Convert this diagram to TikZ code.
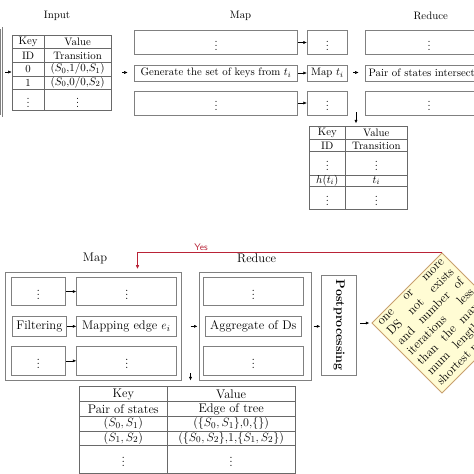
\documentclass[tikz,border=0pt]{standalone}
\usetikzlibrary{arrows.meta}
\definecolor{lg}{RGB}{128,128,128}
\definecolor{tg}{RGB}{105,105,105}
\definecolor{yesred}{RGB}{185,35,55}
\definecolor{dfill}{RGB}{255,252,212}
\definecolor{dedge}{RGB}{200,160,110}
\newcommand\mkbox[7]{\node[#1, inner sep=0pt, minimum width={(#5-#3)*1pt}, minimum height={(#6-#4)*1pt}] (#2) at ({(#3+#5)/2},{(#4+#6)/2}) {#7};}
\newcommand\spreadline[1]{\makebox[89pt]{#1}}
\begin{document}
\begin{tikzpicture}[x=1pt,y=-1pt,
  ibox/.style={draw=lg, line width=0.8pt},
  obox/.style={draw=lg, line width=0.55pt, double=white, double distance=1.6pt},
  obox2/.style={draw=lg, line width=1pt},
  cell/.style={draw=tg, line width=0.6pt},
  arr/.style={-{Latex[length=3.5pt,width=3pt]}, line width=0.5pt},
  lab/.style={inner sep=0pt}]
\useasboundingbox (0,0) rectangle (474,474);
\clip (0,0) rectangle (474,474);
\fill[white] (0,0) rectangle (474,474);

% ---------- top part ----------
\begin{scope}[font=\fontsize{10.8}{13}\selectfont]
\node[lab] (linput) at (57,16) {Input};
\node[lab] (lmap) at (240.5,16) {Map};
\node[lab] (lred) at (430.7,16) {Reduce};

\mkbox{obox}{prev}{-60}{28}{1.5}{116}{}

% input table
\mkbox{cell}{inK}{12}{35}{44.3}{48.7}{Key}
\mkbox{cell}{inV}{44.3}{35}{111}{48.7}{Value}
\mkbox{cell}{inI}{12}{48.7}{44.3}{62.3}{ID}
\mkbox{cell}{inT}{44.3}{48.7}{111}{62.3}{Transition}
\mkbox{cell}{inZa}{12}{62.3}{44.3}{76}{0}
\mkbox{cell}{inZb}{44.3}{62.3}{111}{76}{$(S_0{,}1/0{,}S_1)$}
\mkbox{cell}{inOa}{12}{76}{44.3}{89}{1}
\mkbox{cell}{inOb}{44.3}{76}{111}{89}{$(S_0{,}0/0{,}S_2)$}
\mkbox{cell}{inDa}{12}{89}{44.3}{110.5}{$\vdots$}
\mkbox{cell}{inDb}{44.3}{89}{111}{110.5}{$\vdots$}

\draw[arr, shorten <=3.5pt] (prev.east) -- (prev.east -| inK.west);

% map
\mkbox{obox}{map1}{130}{27}{351}{118}{}
\mkbox{ibox}{ma1}{134.3}{30.7}{297.7}{54.3}{$\vdots$}
\mkbox{ibox}{ma2}{134.3}{65}{297.7}{81}{Generate the set of keys from $t_i$}
\mkbox{ibox}{ma3}{134.3}{91}{297.7}{115}{$\vdots$}
\mkbox{ibox}{mb1}{307.3}{30.7}{347.3}{54.3}{$\vdots$}
\mkbox{ibox}{mb2}{307.3}{65}{347.3}{81}{Map $t_i$}
\mkbox{ibox}{mb3}{307.3}{91}{347.3}{115}{$\vdots$}
\draw[arr] (ma1.east) -- (mb1.west);
\draw[arr] (ma2.east) -- (mb2.west);
\draw[arr] (ma3.east) -- (mb3.west);

\draw[arr, shorten <=11pt, shorten >=2pt] (map1.west -| inV.east) -- (map1.west);

% reduce
\mkbox{obox}{red1}{361}{27}{497}{118}{}
\mkbox{ibox}{rb1}{365.7}{30.7}{492.3}{54.3}{$\vdots$}
\mkbox{ibox}{rb2}{365.7}{65}{492.3}{81}{Pair of states intersection}
\mkbox{ibox}{rb3}{365.7}{91}{492.3}{115}{$\vdots$}
\draw[arr, shorten <=2pt, shorten >=2pt] (map1.east) -- (red1.west);

% output table
\coordinate (dtop) at (356,112);
\mkbox{cell}{tK}{309.3}{126.7}{345.3}{139.3}{Key}
\mkbox{cell}{tV}{345.3}{126.7}{407.3}{139.3}{Value}
\mkbox{cell}{tI}{309.3}{139.3}{345.3}{151.7}{ID}
\mkbox{cell}{tT}{345.3}{139.3}{407.3}{151.7}{Transition}
\mkbox{cell}{tDa}{309.3}{151.7}{345.3}{175}{$\vdots$}
\mkbox{cell}{tDb}{345.3}{151.7}{407.3}{175}{$\vdots$}
\mkbox{cell}{tHa}{309.3}{175}{345.3}{186}{$h(t_i)$}
\mkbox{cell}{tHb}{345.3}{175}{407.3}{186}{$t_i$}
\mkbox{cell}{tEa}{309.3}{186}{345.3}{209}{$\vdots$}
\mkbox{cell}{tEb}{345.3}{186}{407.3}{209}{$\vdots$}
\draw[arr, shorten >=3pt] (dtop) -- (dtop |- tK.north);
\end{scope}

% ---------- bottom part ----------
\begin{scope}[font=\fontsize{12.5}{15}\selectfont]
\node[lab] (lmap2) at (95,258.3) {Map};
\node[lab] (lred2) at (256.7,258.3) {Reduce};

\mkbox{obox2}{map2}{5.7}{272.7}{181}{380}{}
\mkbox{ibox}{na1}{11}{277.3}{65.7}{305.7}{$\vdots$}
\mkbox{ibox}{na2}{12}{316}{66.7}{336.7}{Filtering}
\mkbox{ibox}{na3}{11}{346.7}{65.7}{375}{$\vdots$}
\mkbox{ibox}{nb1}{76.7}{277.3}{176.7}{305.7}{$\vdots$}
\mkbox{ibox}{nb2}{76.7}{316}{176}{336.7}{Mapping edge $e_i$}
\mkbox{ibox}{nb3}{76.7}{346.7}{176.7}{375}{$\vdots$}
\draw[arr] (na1.east) -- (nb1.west);
\draw[arr] (na2.east) -- (nb2.west);
\draw[arr] (na3.east) -- (nb3.west);

\mkbox{obox2}{red2}{199}{272.7}{311.7}{380}{}
\mkbox{ibox}{rc1}{203.3}{277.3}{303.3}{305.7}{$\vdots$}
\mkbox{ibox}{rc2}{205}{316}{301.7}{336.7}{Aggregate of Ds}
\mkbox{ibox}{rc3}{203.3}{346.7}{303.3}{375}{$\vdots$}
\draw[arr, shorten <=9pt, shorten >=1pt] (map2.east) -- (red2.west);

\node[ibox, rotate=-90, minimum width=100.7pt, minimum height=35pt, inner sep=0pt, font=\fontsize{12.5}{15}\selectfont\bfseries] (post) at (339.2,325.35) {Postprocessing};
\draw[arr, shorten <=1.5pt, shorten >=1pt] (red2.east) -- (red2.east -| post.south);

\node[draw=dedge, fill=dfill, line width=0.9pt, rotate=45, minimum width=99pt, minimum height=99pt,
      inner xsep=5pt, inner ysep=0pt, text width=89pt, align=left,
      font=\fontsize{12.5}{14.1}\selectfont] (dia) at (442,323)
 {\spreadline{one\hfill or\hfill more}\\
  \spreadline{DS\hfill not\hfill exists}\\
  \spreadline{and\hfill number\hfill of}\\
  \spreadline{iterations\hfill less}\\
  \spreadline{than\hfill the\hfill maxi-}\\
  \spreadline{mum\hfill length\hfill of}\\
  shortest path.};
\draw[arr, shorten <=3pt, shorten >=2pt] (post.north |- dia.north west) -- (dia.north west);

\coordinate (yesx) at (137.5,0);
\draw[yesred, line width=1pt, -{Latex[length=4pt,width=3.5pt]}, shorten >=3pt]
  (dia.north east) -- (dia.north east -| yesx) -- (yesx |- map2.north);
\node[lab, anchor=base, text=yesred, font=\sffamily\fontsize{9.5}{11}\selectfont] (yes) at (201,250) {Yes};

% bottom table
\coordinate (dbot) at (190.5,373);
\mkbox{cell}{uK}{79.3}{386.7}{167.3}{401.7}{Key}
\mkbox{cell}{uV}{167.3}{386.7}{295}{401.7}{Value}
\mkbox{cell}{uP}{79.3}{401.7}{167.3}{416.7}{Pair of states}
\mkbox{cell}{uE}{167.3}{401.7}{295}{416.7}{Edge of tree}
\mkbox{cell}{uAa}{79.3}{416.7}{167.3}{431}{$(S_0,S_1)$}
\mkbox{cell}{uAb}{167.3}{416.7}{295}{431}{$(\{S_0,S_1\}{,}0{,}\{\})$}
\mkbox{cell}{uBa}{79.3}{431}{167.3}{445}{$(S_1,S_2)$}
\mkbox{cell}{uBb}{167.3}{431}{295}{445}{$(\{S_0,S_2\}{,}1{,}\{S_1,S_2\})$}
\mkbox{cell}{uCa}{79.3}{445}{167.3}{473.3}{$\vdots$}
\mkbox{cell}{uCb}{167.3}{445}{295}{473.3}{$\vdots$}
\draw[arr, shorten >=6pt] (dbot) -- (dbot |- uK.north);
\end{scope}
\end{tikzpicture}
\end{document}
